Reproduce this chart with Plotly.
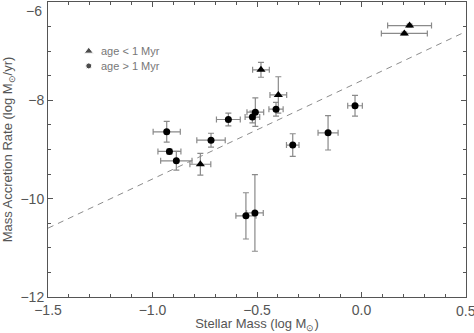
import plotly.graph_objects as go

# age < 1 Myr (triangles)
young_x = [0.230, 0.205, -0.481, -0.398, -0.771]
young_y = [-6.48, -6.64, -7.38, -7.89, -9.30]
young_xerr = [0.105, 0.110, 0.040, 0.040, 0.050]
young_yerr = [0.03, 0.03, 0.15, 0.37, 0.22]

# age > 1 Myr (circles)
old_x = [-0.932, -0.919, -0.886, -0.720, -0.637, -0.522, -0.508, -0.409,
         -0.329, -0.160, -0.031, -0.553, -0.510]
old_y = [-8.64, -9.04, -9.23, -8.81, -8.39, -8.34, -8.24, -8.18,
         -8.91, -8.66, -8.11, -10.35, -10.29]
old_xerr = [0.065, 0.055, 0.075, 0.068, 0.057, 0.035, 0.040, 0.034,
            0.030, 0.048, 0.035, 0.048, 0.040]
old_yerr = [0.21, 0.05, 0.19, 0.14, 0.13, 0.12, 0.29, 0.14,
            0.23, 0.35, 0.21, 0.47, 0.78]

# fit line
fit_x = [-1.5, 0.5]
fit_y = [-10.6, -6.6]

x_ticks = [-1.5, -1.0, -0.5, 0.0, 0.5]
x_labels = ["\u22121.5", "\u22121.0", "\u22120.5", "0.0", "0.5"]
y_ticks = [-12, -10, -8, -6]
y_labels = ["\u221212", "\u221210", "\u22128", "\u22126"]

err_col = "#8a8a8a"
txt_col = "#555555"
font_fam = "Liberation Sans"

fig = go.Figure()
fig.add_trace(go.Scatter(x=fit_x, y=fit_y, mode="lines",
                         line=dict(color="#8c8c8c", width=1, dash="6px,5px"),
                         showlegend=False))
for xs, ys, xe, ye, sym, sz in [
    (young_x, young_y, young_xerr, young_yerr, "triangle-up", 8),
    (old_x, old_y, old_xerr, old_yerr, "circle", 7),
]:
    fig.add_trace(go.Scatter(
        x=xs, y=ys, mode="markers",
        marker=dict(symbol=sym, size=sz, color="black"),
        error_x=dict(type="data", array=xe, color=err_col, thickness=1.2, width=3),
        error_y=dict(type="data", array=ye, color=err_col, thickness=1.2, width=3),
        showlegend=False))

# legend built with markers + text
fig.add_trace(go.Scatter(x=[-1.305, -1.305], y=[-7.0, -7.3], mode="markers",
                         marker=dict(symbol=["triangle-up", "circle"], size=[8, 6], color="black"),
                         showlegend=False, hoverinfo="skip"))
fig.add_annotation(x=-1.255, y=-7.0, text="age < 1 Myr", showarrow=False, xanchor="left",
                   font=dict(size=11, color="#777777", family=font_fam))
fig.add_annotation(x=-1.255, y=-7.3, text="age > 1 Myr", showarrow=False, xanchor="left",
                   font=dict(size=11, color="#777777", family=font_fam))

# edge tick labels that plotly would drop (drawn at the axis positions)
fig.add_annotation(x=x_ticks[-1], y=0, xref="x", yref="paper", yanchor="top", yshift=-4,
                   text=x_labels[-1], showarrow=False,
                   font=dict(size=14, color=txt_col, family=font_fam))
fig.add_annotation(x=0, y=y_ticks[-1], xref="paper", yref="y", xanchor="right", xshift=-4,
                   yanchor="top", yshift=1,
                   text=y_labels[-1], showarrow=False,
                   font=dict(size=14, color=txt_col, family=font_fam))

axis_common = dict(
    showgrid=False, zeroline=False, showline=True, linecolor="#555555", linewidth=1,
    mirror="allticks", ticks="inside", tickcolor="#555555", ticklen=5, tickwidth=1,
    tickfont=dict(size=14, color=txt_col, family=font_fam),
)
fig.update_xaxes(range=[-1.5, 0.5], tickvals=x_ticks[:-1],
                 ticktext=x_labels[:-1],
                 minor=dict(dtick=0.1, ticks="inside", ticklen=3, tickcolor="#555555"),
                 title=dict(text="Stellar Mass (log M<sub>\u2299</sub>)", standoff=1,
                            font=dict(size=13, color=txt_col, family=font_fam)),
                 **axis_common)
fig.update_yaxes(range=[-12, -6], tickvals=y_ticks[:-1],
                 ticktext=y_labels[:-1],
                 minor=dict(dtick=0.5, ticks="inside", ticklen=3, tickcolor="#555555"),
                 title=dict(text="Mass Accretion Rate (log M<sub>\u2299</sub>/yr)", standoff=4,
                            font=dict(size=13, color=txt_col, family=font_fam)),
                 **axis_common)
fig.update_layout(width=474, height=333, margin=dict(l=48, r=8, t=2, b=36),
                  plot_bgcolor="white", paper_bgcolor="white")
fig.write_html("out.html")
